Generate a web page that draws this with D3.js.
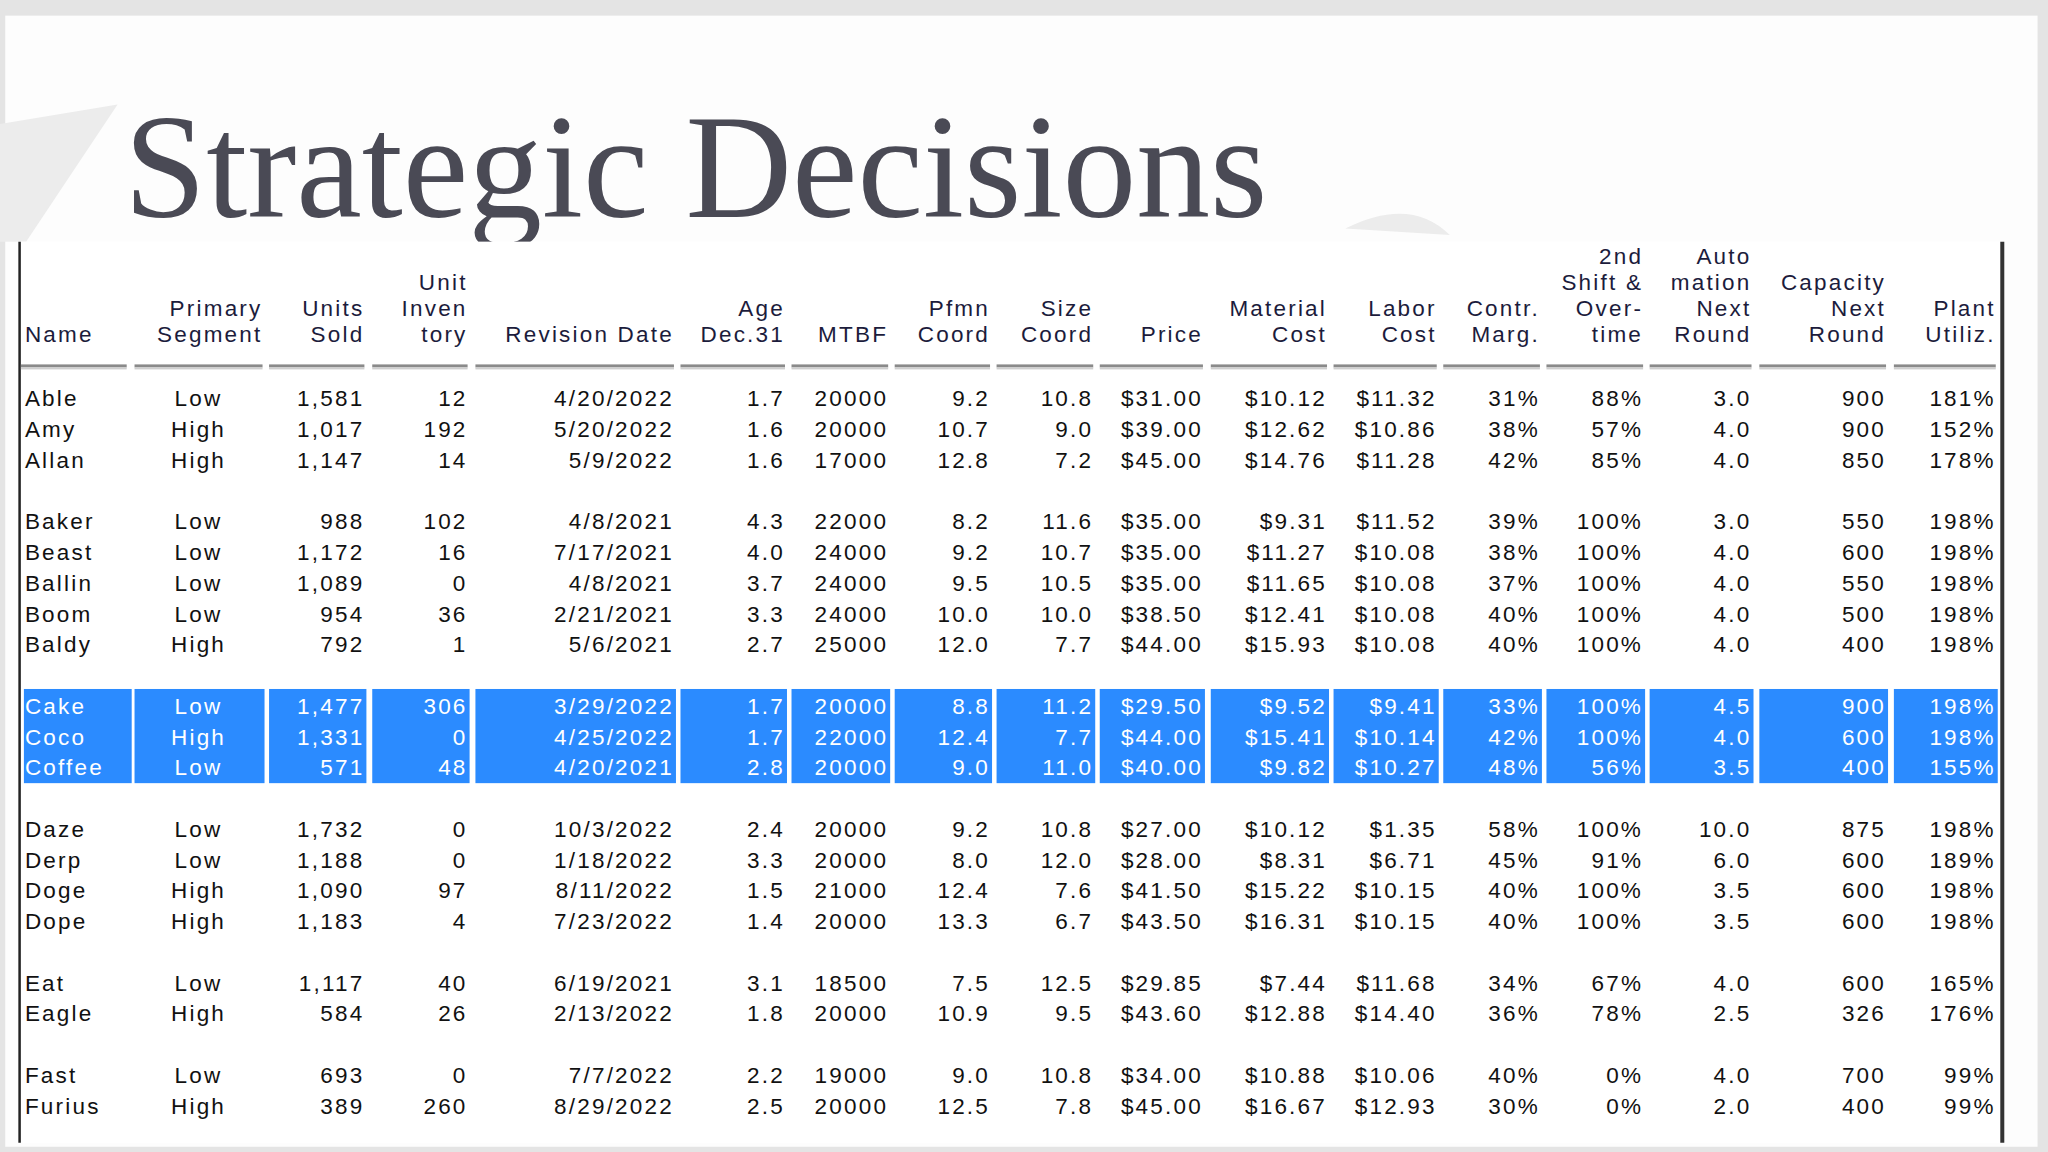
<!DOCTYPE html>
<html>
<head>
<meta charset="utf-8">
<script src="https://cdn.jsdelivr.net/npm/d3@7"></script>
<style>
  body { margin: 0; background: #e6e6e6; }
  svg { display: block; }
</style>
</head>
<body>
<div id="chart"></div>
<script>
// ---- data ----
const names = ["Able","Amy","Allan","Baker","Beast","Ballin","Boom","Baldy","Cake","Coco","Coffee",
               "Daze","Derp","Doge","Dope","Eat","Eagle","Fast","Furius"];
const groupSizes = [3, 5, 3, 4, 2, 2];
const highlightGroup = 2;
const segments = ["Low","High","High","Low","Low","Low","Low","High","Low","High","Low",
                  "Low","Low","High","High","Low","High","Low","High"];
const unitsSold = ["1,581","1,017","1,147","988","1,172","1,089","954","792","1,477","1,331","571",
                   "1,732","1,188","1,090","1,183","1,117","584","693","389"];
const inventory = ["12","192","14","102","16","0","36","1","306","0","48","0","0","97","4","40","26","0","260"];
const revDates = ["4/20/2022","5/20/2022","5/9/2022","4/8/2021","7/17/2021","4/8/2021","2/21/2021","5/6/2021",
                  "3/29/2022","4/25/2022","4/20/2021","10/3/2022","1/18/2022","8/11/2022","7/23/2022",
                  "6/19/2021","2/13/2022","7/7/2022","8/29/2022"];
const ages = ["1.7","1.6","1.6","4.3","4.0","3.7","3.3","2.7","1.7","1.7","2.8","2.4","3.3","1.5","1.4","3.1","1.8","2.2","2.5"];
const mtbf = ["20000","20000","17000","22000","24000","24000","24000","25000","20000","22000","20000",
              "20000","20000","21000","20000","18500","20000","19000","20000"];
const pfmn = ["9.2","10.7","12.8","8.2","9.2","9.5","10.0","12.0","8.8","12.4","9.0","9.2","8.0","12.4","13.3","7.5","10.9","9.0","12.5"];
const sizeC = ["10.8","9.0","7.2","11.6","10.7","10.5","10.0","7.7","11.2","7.7","11.0","10.8","12.0","7.6","6.7","12.5","9.5","10.8","7.8"];
const prices = ["$31.00","$39.00","$45.00","$35.00","$35.00","$35.00","$38.50","$44.00","$29.50","$44.00","$40.00",
                "$27.00","$28.00","$41.50","$43.50","$29.85","$43.60","$34.00","$45.00"];
const materialCost = ["$10.12","$12.62","$14.76","$9.31","$11.27","$11.65","$12.41","$15.93","$9.52","$15.41","$9.82",
                      "$10.12","$8.31","$15.22","$16.31","$7.44","$12.88","$10.88","$16.67"];
const laborCost = ["$11.32","$10.86","$11.28","$11.52","$10.08","$10.08","$10.08","$10.08","$9.41","$10.14","$10.27",
                   "$1.35","$6.71","$10.15","$10.15","$11.68","$14.40","$10.06","$12.93"];
const contrMarg = ["31%","38%","42%","39%","38%","37%","40%","40%","33%","42%","48%","58%","45%","40%","40%","34%","36%","40%","30%"];
const overtime = ["88%","57%","85%","100%","100%","100%","100%","100%","100%","100%","56%","100%","91%","100%","100%","67%","78%","0%","0%"];
const automation = ["3.0","4.0","4.0","3.0","4.0","4.0","4.0","4.0","4.5","4.0","3.5","10.0","6.0","3.5","3.5","4.0","2.5","4.0","2.0"];
const capacity = ["900","900","850","550","600","550","500","400","900","600","400","875","600","600","600","600","326","700","400"];
const utilization = ["181%","152%","178%","198%","198%","198%","198%","198%","198%","198%","155%",
                     "198%","189%","198%","198%","165%","176%","99%","99%"];

const headers = [["Name"],["Primary","Segment"],["Units","Sold"],["Unit","Inven","tory"],["Revision Date"],
  ["Age","Dec.31"],["MTBF"],["Pfmn","Coord"],["Size","Coord"],["Price"],["Material","Cost"],["Labor","Cost"],
  ["Contr.","Marg."],["2nd","Shift &","Over-","time"],["Auto","mation","Next","Round"],["Capacity","Next","Round"],
  ["Plant","Utiliz."]];
const columns = [names, segments, unitsSold, inventory, revDates, ages, mtbf, pfmn, sizeC, prices,
                 materialCost, laborCost, contrMarg, overtime, automation, capacity, utilization];

// ---- layout ----
const W = 2048, H = 1152;
// column extents (left, right) in design units
const colEdges = [[16,97],[103,201],[206,279],[285,358],[364,516],[521,601],[606,680],[685,758],[763,837],
  [842,921],[927,1016],[1021,1100],[1105,1179],[1184,1258],[1263,1341],[1347,1444],[1450,1528]];
const sx = d3.scaleLinear().domain([0, 1568]).range([0, W]);

// row slot index: blank line between groups
const rowSlot = [];
let slot = 0, rowGroup = [];
groupSizes.forEach((n, g) => {
  for (let i = 0; i < n; i++) { rowSlot.push(slot++); rowGroup.push(g); }
  slot++;
});
const ry = d3.scaleLinear().domain([0, 1]).range([sx(311), sx(311 + 23.55)]);
const hy = d3.scaleLinear().domain([0, 1]).range([sx(262), sx(242)]);

const svg = d3.select("#chart").append("svg").attr("width", W).attr("height", H);

// background paper
svg.append("rect").attr("width", W).attr("height", H).attr("fill", "#e4e4e4");
svg.append("rect").attr("x", sx(4)).attr("y", sx(12)).attr("width", sx(1556)).attr("height", sx(866))
  .attr("fill", "#fdfdfd");
svg.append("path")
  .attr("d", `M${sx(0)},${sx(95)} L${sx(90)},${sx(80)} L${sx(20)},${sx(185)} L0,${sx(185)} Z`)
  .attr("fill", "#ececec");
svg.append("path")
  .attr("d", `M${sx(1030)},${sx(175)} Q${sx(1080)},${sx(150)} ${sx(1110)},${sx(180)} Z`)
  .attr("fill", "#ececec");

// title
svg.append("text")
  .attr("x", sx(95)).attr("y", sx(166))
  .attr("font-family", "'Liberation Serif', 'DejaVu Serif', serif")
  .attr("font-size", sx(113))
  .attr("fill", "#4a4a55")
  .text("Strategic Decisions");

// table panel
svg.append("rect").attr("x", sx(15)).attr("y", sx(185)).attr("width", sx(1518)).attr("height", sx(690))
  .attr("fill", "#ffffff");
svg.append("line").attr("x1", sx(15)).attr("x2", sx(15)).attr("y1", sx(185)).attr("y2", sx(875))
  .attr("stroke", "#222").attr("stroke-width", 2.5);
svg.append("line").attr("x1", sx(1533)).attr("x2", sx(1533)).attr("y1", sx(185)).attr("y2", sx(875))
  .attr("stroke", "#333").attr("stroke-width", 4);

const fontFam = "'Liberation Sans', Arial, sans-serif";
const fs = 22.5;
const ls = 2.2;

// highlight cells
const hiRows = d3.range(names.length).filter(i => rowGroup[i] === highlightGroup);
const hiTop = ry(rowSlot[hiRows[0]]) - sx(19);
const hiBot = ry(rowSlot[hiRows[hiRows.length - 1]]) + sx(6);
svg.append("g").selectAll("rect").data(colEdges).join("rect")
  .attr("x", d => sx(d[0]) + (d === colEdges[0] ? 3 : 0))
  .attr("y", hiTop)
  .attr("width", d => sx(d[1] - d[0]) + 2)
  .attr("height", hiBot - hiTop)
  .attr("fill", "#2b8bff");

// headers
const hg = svg.append("g").attr("font-family", fontFam).attr("font-size", fs)
  .attr("fill", "#1c1c3c").attr("letter-spacing", ls);
headers.forEach((lines, c) => {
  const left = c === 0;
  lines.forEach((t, j) => {
    hg.append("text")
      .attr("x", left ? sx(colEdges[c][0]) + 4 : sx(colEdges[c][1]))
      .attr("y", hy(lines.length - 1 - j))
      .attr("text-anchor", left ? "start" : "end")
      .text(t);
  });
});

// header underlines
const ug = svg.append("g");
colEdges.forEach(d => {
  ug.append("rect").attr("x", sx(d[0])).attr("y", sx(279)).attr("width", sx(d[1] - d[0])).attr("height", 3)
    .attr("fill", "#8a8a8a");
  ug.append("rect").attr("x", sx(d[0])).attr("y", sx(279) + 3).attr("width", sx(d[1] - d[0])).attr("height", 2)
    .attr("fill", "#cfcfcf");
});

// body
const bg = svg.append("g").attr("font-family", fontFam).attr("font-size", fs).attr("letter-spacing", ls);
columns.forEach((vals, c) => {
  bg.selectAll(null).data(vals).join("text")
    .attr("x", c === 0 ? sx(colEdges[c][0]) + 4 : c === 1 ? sx((colEdges[c][0] + colEdges[c][1]) / 2) : sx(colEdges[c][1]))
    .attr("y", (d, i) => ry(rowSlot[i]))
    .attr("text-anchor", c === 0 ? "start" : c === 1 ? "middle" : "end")
    .attr("fill", (d, i) => rowGroup[i] === highlightGroup ? "#ffffff" : "#111")
    .text(d => d);
});
</script>
</body>
</html>
